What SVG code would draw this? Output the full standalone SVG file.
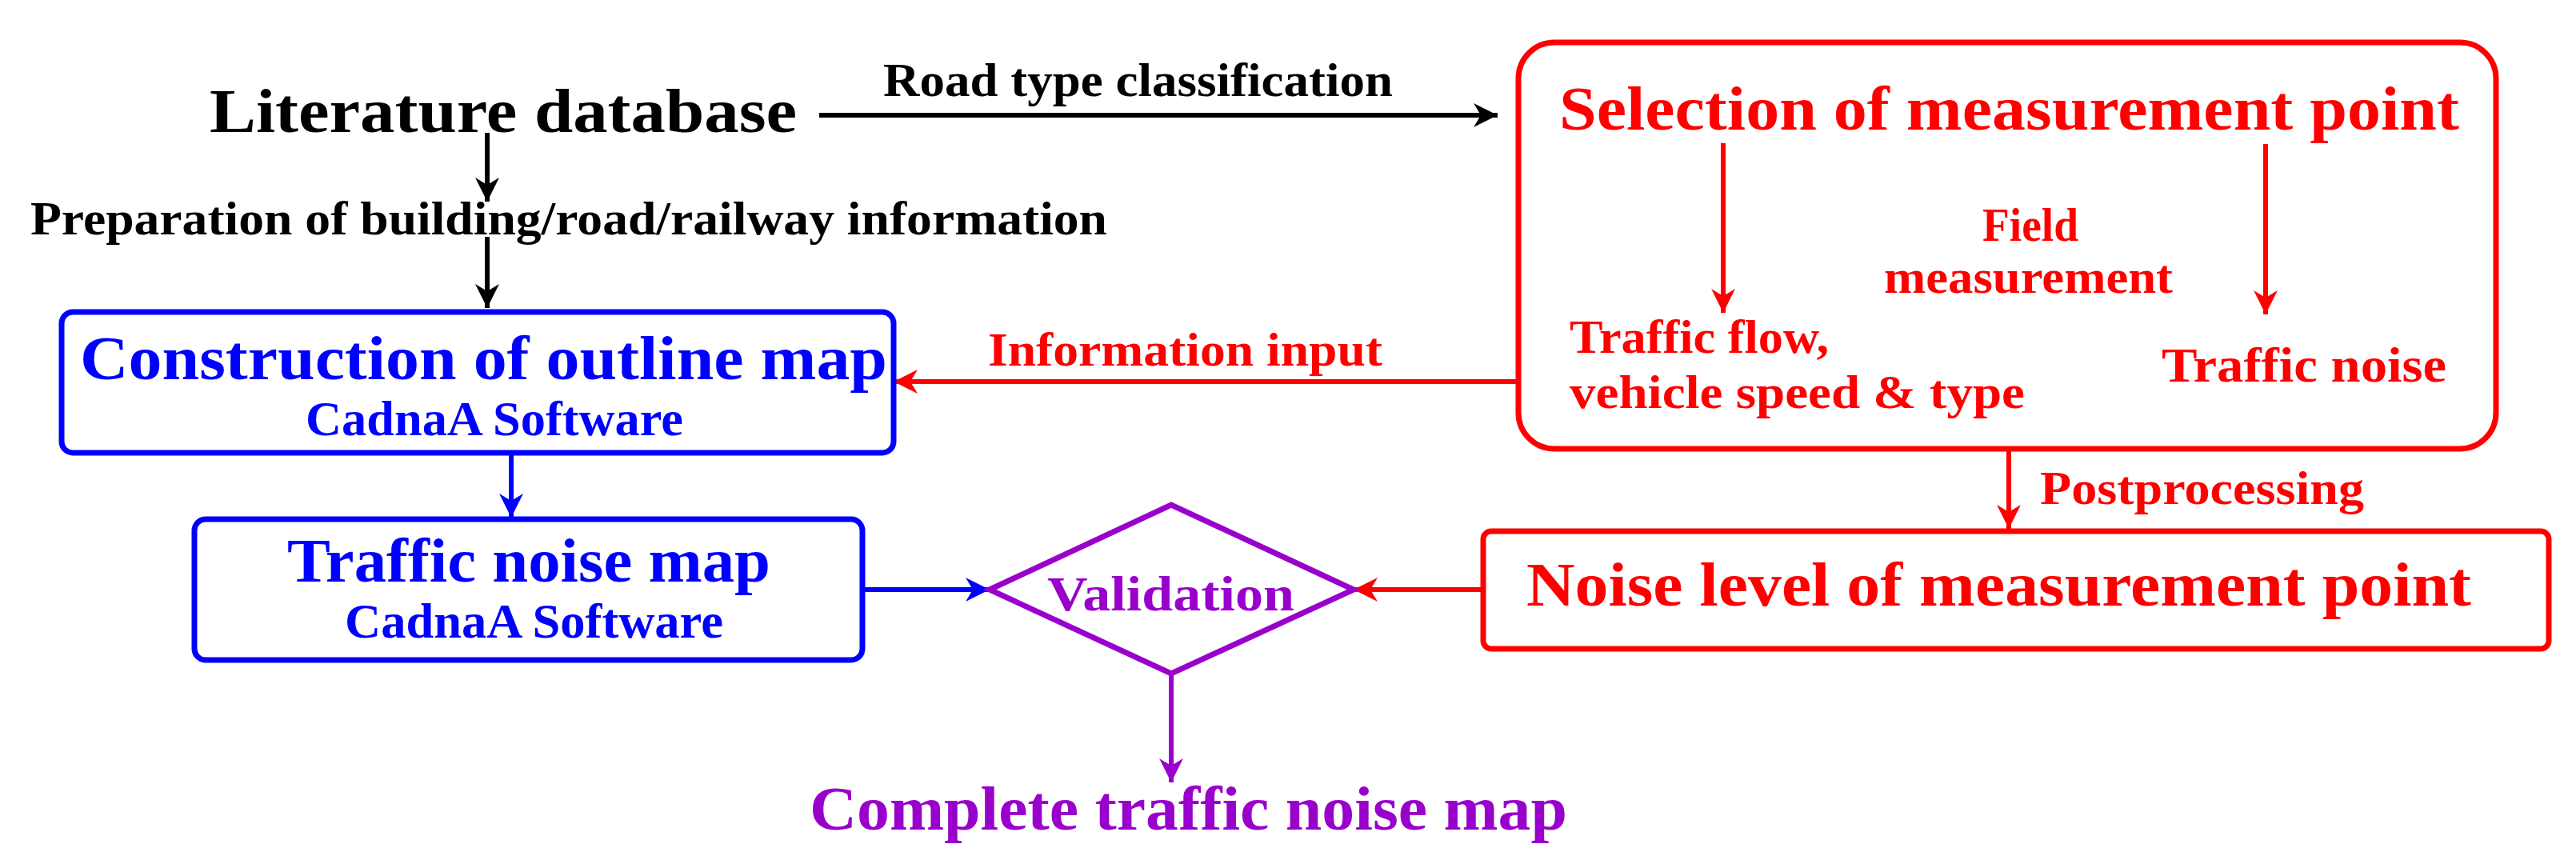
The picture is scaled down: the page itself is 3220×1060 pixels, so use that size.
<svg xmlns="http://www.w3.org/2000/svg" width="3220" height="1060" viewBox="0 0 3220 1060">
<style>
text{font-family:"Liberation Serif","Times New Roman",serif;font-weight:bold}
.k{fill:#000}.b{fill:#0000ff}.r{fill:#ff0000}.p{fill:#9900cc}
.lk{stroke:#000;stroke-width:6;fill:none}.lb{stroke:#0000ff;stroke-width:6;fill:none}
.lr{stroke:#ff0000;stroke-width:6;fill:none}.lp{stroke:#9900cc;stroke-width:6;fill:none}
</style>
<defs>
<marker id="ak" viewBox="0 0 10 10" refX="10" refY="5" markerWidth="7" markerHeight="5" markerUnits="strokeWidth" orient="auto"><path d="M0,0L10,5L0,10L3,5z" fill="#000"/></marker>
<marker id="ab" viewBox="0 0 10 10" refX="10" refY="5" markerWidth="7" markerHeight="5" markerUnits="strokeWidth" orient="auto"><path d="M0,0L10,5L0,10L3,5z" fill="#0000ff"/></marker>
<marker id="ar" viewBox="0 0 10 10" refX="10" refY="5" markerWidth="7" markerHeight="5" markerUnits="strokeWidth" orient="auto"><path d="M0,0L10,5L0,10L3,5z" fill="#ff0000"/></marker>
<marker id="ap" viewBox="0 0 10 10" refX="10" refY="5" markerWidth="7" markerHeight="5" markerUnits="strokeWidth" orient="auto"><path d="M0,0L10,5L0,10L3,5z" fill="#9900cc"/></marker>
</defs>
<rect width="3220" height="1060" fill="#fff"/>
<g id="connectors">
<line class="lk" x1="1024" y1="144" x2="1872" y2="144" marker-end="url(#ak)"/>
<line class="lk" x1="609" y1="166" x2="609" y2="252" marker-end="url(#ak)"/>
<line class="lk" x1="609" y1="296" x2="609" y2="385" marker-end="url(#ak)"/>
<line class="lb" x1="639" y1="568" x2="639" y2="647" marker-end="url(#ab)"/>
<line class="lb" x1="1081" y1="737" x2="1237" y2="737" marker-end="url(#ab)"/>
<line class="lr" x1="1898" y1="477" x2="1117" y2="477" marker-end="url(#ar)"/>
<line class="lr" x1="2154" y1="179" x2="2154" y2="391" marker-end="url(#ar)"/>
<line class="lr" x1="2832" y1="180" x2="2832" y2="393" marker-end="url(#ar)"/>
<line class="lr" x1="2511" y1="561" x2="2511" y2="661" marker-end="url(#ar)"/>
<line class="lr" x1="1854" y1="737" x2="1692" y2="737" marker-end="url(#ar)"/>
<line class="lp" x1="1464" y1="842" x2="1464" y2="978" marker-end="url(#ap)"/>
<text class="k" x="1104" y="120" font-size="59" textLength="637" lengthAdjust="spacingAndGlyphs">Road type classification</text>
<text class="k" x="38" y="293" font-size="59" textLength="1346" lengthAdjust="spacingAndGlyphs">Preparation of building/road/railway information</text>
<text class="r" x="1235" y="457" font-size="59" textLength="493" lengthAdjust="spacingAndGlyphs">Information input</text>
<text class="r" x="2550" y="630" font-size="59" textLength="405" lengthAdjust="spacingAndGlyphs">Postprocessing</text>
</g>
<g id="literature">
<text class="k" x="262" y="165" font-size="78" textLength="734" lengthAdjust="spacingAndGlyphs">Literature  database</text>
</g>
<g id="outline">
<rect x="77" y="390" width="1040" height="176" rx="14" fill="none" stroke="#0000ff" stroke-width="7"/>
<text class="b" x="100" y="474" font-size="78" textLength="1009" lengthAdjust="spacingAndGlyphs">Construction of outline map</text>
<text class="b" x="382" y="544" font-size="62" textLength="472" lengthAdjust="spacingAndGlyphs">CadnaA Software</text>
</g>
<g id="noisemap">
<rect x="243" y="649" width="835" height="176" rx="14" fill="none" stroke="#0000ff" stroke-width="7"/>
<text class="b" x="359" y="727" font-size="78" textLength="604" lengthAdjust="spacingAndGlyphs">Traffic noise map</text>
<text class="b" x="431" y="797" font-size="62" textLength="473" lengthAdjust="spacingAndGlyphs">CadnaA Software</text>
</g>
<g id="validation">
<path d="M1237,737L1464,631L1692,737L1464,842z" fill="none" stroke="#9900cc" stroke-width="7"/>
<text class="p" x="1309" y="763" font-size="62" textLength="309" lengthAdjust="spacingAndGlyphs">Validation</text>
</g>
<g id="complete">
<text class="p" x="1012" y="1037" font-size="78" textLength="947" lengthAdjust="spacingAndGlyphs">Complete traffic noise map</text>
</g>
<g id="selection">
<rect x="1898" y="53" width="1222" height="508" rx="45" fill="none" stroke="#ff0000" stroke-width="7"/>
<text class="r" x="1949" y="162" font-size="78" textLength="1125" lengthAdjust="spacingAndGlyphs">Selection of measurement point</text>
<text class="r" x="2478" y="301" font-size="59" textLength="120" lengthAdjust="spacingAndGlyphs">Field</text>
<text class="r" x="2355" y="366" font-size="59" textLength="361" lengthAdjust="spacingAndGlyphs">measurement</text>
<text class="r" x="1962" y="441" font-size="59" textLength="324" lengthAdjust="spacingAndGlyphs">Traffic flow,</text>
<text class="r" x="1962" y="510" font-size="59" textLength="569" lengthAdjust="spacingAndGlyphs">vehicle speed &amp; type</text>
<text class="r" x="2702" y="477" font-size="62" textLength="356" lengthAdjust="spacingAndGlyphs">Traffic noise</text>
</g>
<g id="noiselevel">
<rect x="1854" y="664" width="1332" height="147" rx="10" fill="none" stroke="#ff0000" stroke-width="7"/>
<text class="r" x="1908" y="757" font-size="78" textLength="1181" lengthAdjust="spacingAndGlyphs">Noise level of measurement point</text>
</g>
</svg>
